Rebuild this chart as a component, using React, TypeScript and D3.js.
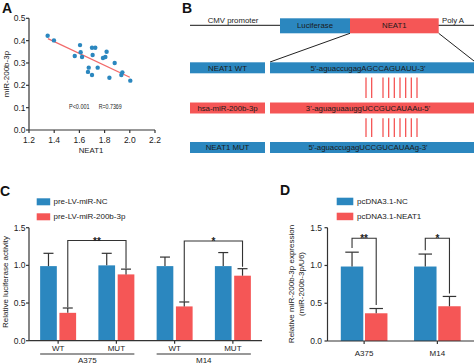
import React from "react";
import * as d3 from "d3";

const BLUE = "#2b87bf";
const RED = "#f55656";
const INK = "#333333";
const FONT = "'Liberation Sans', Arial, Helvetica, sans-serif";

// ---------- Panel A: correlation ----------
const neat1 = [1.348, 1.398, 1.563, 1.605, 1.61, 1.621, 1.7, 1.726, 1.705, 1.674, 1.668, 1.7, 1.745, 1.787, 1.806, 1.816, 1.88, 1.838, 1.941, 1.933, 2.004];
const mir200b = [0.422, 0.401, 0.331, 0.38, 0.348, 0.327, 0.368, 0.368, 0.336, 0.279, 0.26, 0.246, 0.279, 0.322, 0.327, 0.35, 0.3, 0.234, 0.258, 0.246, 0.221];
const fitX = [1.35, 2.0];
const fitY = [0.409, 0.236];
const aXTicks = [1.2, 1.4, 1.6, 1.8, 2.0, 2.2];
const aYTicks = [0, 0.1, 0.2, 0.3, 0.4, 0.5];
const aStats = ["P<0.001", "R=0.7369"];

// ---------- Panel B: construct ----------
const bTopLabels = ["CMV promoter", "Luciferase", "NEAT1", "Poly A"];
const bRowNames = ["NEAT1 WT", "hsa-miR-200b-3p", "NEAT1 MUT"];
const bRowSeqs = ["5'-aguaccugagAGCCAGUAUU-3'", "3'-aguaguaauggUCCGUCAUAAu-5'", "5'-aguaccugagUCCGUCAUAAg-3'"];
const bRowColors = [BLUE, RED, BLUE];
const bPairIdx = [0, 1, 3, 4, 5, 6, 7, 8, 9];

// ---------- Panel C: luciferase ----------
const cGroups = ["A375 WT", "A375 MUT", "M14 WT", "M14 MUT"];
const cTickLabels = ["WT", "MUT", "WT", "MUT"];
const cCellLines = ["A375", "M14"];
const cLegend = ["pre-LV-miR-NC", "pre-LV-miR-200b-3p"];
const cNC = [0.99, 1.0, 0.99, 0.99];
const cNCErr = [0.17, 0.16, 0.12, 0.18];
const cMiR = [0.37, 0.88, 0.455, 0.863];
const cMiRErr = [0.064, 0.07, 0.059, 0.093];
const cYTicks = [0, 0.5, 1.0, 1.5];
const cSig = [
  { from: 0, to: 1, level: 1.33, footL: 0.445, footR: 0.96, label: "**" },
  { from: 2, to: 3, level: 1.323, footL: 0.518, footR: 0.98, label: "*" },
];

// ---------- Panel D: expression ----------
const dGroups = ["A375", "M14"];
const dLegend = ["pcDNA3.1-NC", "pcDNA3.1-NEAT1"];
const dNC = [0.986, 0.986];
const dNCErr = [0.19, 0.165];
const dNEAT = [0.367, 0.46];
const dNEATErr = [0.063, 0.13];
const dYTicks = [0, 0.5, 1.0, 1.5];
const dSig = [
  { g: 0, level: 1.36, footL: 1.23, footR: 0.477, label: "**" },
  { g: 1, level: 1.36, footL: 1.2, footR: 0.63, label: "*" },
];

const fmt1 = d3.format(".1f");

function ErrBar({ x, w, y0, y1 }: { x: number; w: number; y0: number; y1: number }) {
  return (
    <g stroke={INK} strokeWidth={1.2}>
      <line x1={x} x2={x} y1={y0} y2={y1} />
      <line x1={x - w / 2} x2={x + w / 2} y1={y1} y2={y1} />
    </g>
  );
}

export default function App() {
  // Panel A scales
  const ax = d3.scaleLinear().domain([1.2, 2.2]).range([29, 155]);
  const ay = d3.scaleLinear().domain([0, 0.5]).range([130, 18.3]);
  const fitLine = d3.line<number>().x((d, i) => ax(fitX[i])).y((d) => ay(d));

  // Panel B schematic pairing scale
  const pairX = d3.scaleLinear().domain([0, 9]).range([366, 417]);

  // Panel C scales
  const cx = d3.scaleBand<string>().domain(cGroups).range([29, 262]).padding(0);
  const cSub = d3.scaleBand<string>().domain(["nc", "tr"]).range([0, cx.bandwidth()]).paddingInner(0.135).paddingOuter(0.577);
  const cy = d3.scaleLinear().domain([0, 1.5]).range([340.7, 227.7]);

  // Panel D scales
  const dx = d3.scaleBand<string>().domain(dGroups).range([327.5, 474]).padding(0);
  const dSub = d3.scaleBand<string>().domain(["nc", "tr"]).range([0, dx.bandwidth()]).paddingInner(0.07).paddingOuter(0.55);
  const dy = d3.scaleLinear().domain([0, 1.5]).range([341, 227.7]);

  const cbw = cSub.bandwidth();
  const dbw = dSub.bandwidth();

  const rowsY = [62.3, 102.5, 142];
  const rowH = 11;

  return (
    <svg width={474} height={364} style={{ position: "absolute", left: 0, top: 0, background: "#fff" }} fontFamily={FONT}>
      <rect width={474} height={364} fill="#fff" />
      {/* ============ Panel A ============ */}
      <text x={2} y={13} fontSize={14} fontWeight="bold" fill="#111">A</text>
      <line x1={29} x2={29} y1={ay(0.5)} y2={ay(0)} stroke={INK} strokeWidth={1.2} />
      <line x1={29} x2={ax(2.2)} y1={ay(0)} y2={ay(0)} stroke={INK} strokeWidth={1.2} />
      {aYTicks.map((t) => (
        <g key={"ay" + t}>
          <line x1={26} x2={29} y1={ay(t)} y2={ay(t)} stroke={INK} strokeWidth={1.2} />
          <text x={25.5} y={ay(t)} fontSize={8.5} textAnchor="end" dominantBaseline="central" fill="#222">{fmt1(t)}</text>
        </g>
      ))}
      {aXTicks.map((t) => (
        <g key={"ax" + t}>
          <line x1={ax(t)} x2={ax(t)} y1={ay(0)} y2={ay(0) + 3} stroke={INK} strokeWidth={1.2} />
          <text x={ax(t)} y={139.5} fontSize={8.5} textAnchor="middle" dominantBaseline="central" fill="#222">{fmt1(t)}</text>
        </g>
      ))}
      <text x={91} y={150.7} fontSize={7.8} textAnchor="middle" dominantBaseline="central" fill="#222">NEAT1</text>
      <text transform="translate(6,74) rotate(-90)" fontSize={8} textAnchor="middle" dominantBaseline="central" fill="#222">miR-200b-3p</text>
      <path d={fitLine(fitY) || ""} stroke="#f26a6a" strokeWidth={1.3} fill="none" />
      {neat1.map((v, i) => (
        <circle key={"pt" + i} cx={ax(v)} cy={ay(mir200b[i])} r={2.2} fill={BLUE} />
      ))}
      <text x={69} y={106.7} fontSize={6.5} dominantBaseline="central" fill="#222" textLength={20.5} lengthAdjust="spacingAndGlyphs">{aStats[0]}</text>
      <text x={98.7} y={106.7} fontSize={6.5} dominantBaseline="central" fill="#222" textLength={23} lengthAdjust="spacingAndGlyphs">{aStats[1]}</text>

      {/* ============ Panel B ============ */}
      <text x={182} y={13} fontSize={14} fontWeight="bold" fill="#111">B</text>
      <line x1={190} x2={474} y1={25.3} y2={25.3} stroke="#444" strokeWidth={1.3} />
      <rect x={280} y={18.3} width={70} height={15} fill={BLUE} />
      <rect x={350} y={18.3} width={88.7} height={15} fill={RED} />
      <text x={233} y={20} fontSize={7.8} textAnchor="middle" dominantBaseline="central" fill="#222">{bTopLabels[0]}</text>
      <text x={315} y={25.8} fontSize={7.8} textAnchor="middle" dominantBaseline="central" fill="#1a1a1a">{bTopLabels[1]}</text>
      <text x={394.3} y={25.8} fontSize={7.8} textAnchor="middle" dominantBaseline="central" fill="#1a1a1a">{bTopLabels[2]}</text>
      <text x={453} y={20} fontSize={7.8} textAnchor="middle" dominantBaseline="central" fill="#222">{bTopLabels[3]}</text>
      <line x1={350} y1={33.3} x2={270} y2={62} stroke="#222" strokeWidth={1} />
      <line x1={438.7} y1={33.3} x2={474} y2={61} stroke="#222" strokeWidth={1} />
      {bRowNames.map((name, i) => (
        <g key={"row" + i}>
          <rect x={190} y={rowsY[i]} width={75} height={rowH} fill={bRowColors[i]} />
          <rect x={270} y={rowsY[i]} width={204} height={rowH} fill={bRowColors[i]} />
          <text x={227.5} y={rowsY[i] + rowH / 2 + 0.3} fontSize={7.8} textAnchor="middle" dominantBaseline="central" fill="#1a1a1a">{name}</text>
          <text x={368} y={rowsY[i] + rowH / 2 + 0.3} fontSize={7.8} textAnchor="middle" dominantBaseline="central" fill="#1a1a1a">{bRowSeqs[i]}</text>
        </g>
      ))}
      {[[77.5, 98], [118.3, 137]].map((ys, k) =>
        bPairIdx.map((p) => (
          <line key={"pair" + k + "-" + p} x1={pairX(p)} x2={pairX(p)} y1={ys[0]} y2={ys[1]} stroke={RED} strokeWidth={1.3} />
        ))
      )}

      {/* ============ Panel C ============ */}
      <text x={0} y={195.5} fontSize={14} fontWeight="bold" fill="#111">C</text>
      {cLegend.map((l, i) => (
        <g key={"cl" + i}>
          <rect x={36.7} y={198.3 + i * 15} width={13.5} height={7} fill={i === 0 ? BLUE : RED} />
          <text x={53.5} y={201.8 + i * 15} fontSize={8} dominantBaseline="central" fill="#222">{l}</text>
        </g>
      ))}
      {cGroups.map((g, i) => {
        const x0 = cx(g)! + cSub("nc")!;
        const x1 = cx(g)! + cSub("tr")!;
        return (
          <g key={"cg" + i}>
            <rect x={x0} y={cy(cNC[i])} width={cbw} height={cy(0) - cy(cNC[i])} fill={BLUE} />
            <rect x={x1} y={cy(cMiR[i])} width={cbw} height={cy(0) - cy(cMiR[i])} fill={RED} />
            <ErrBar x={x0 + cbw / 2} w={cbw * 0.6} y0={cy(cNC[i])} y1={cy(cNC[i] + cNCErr[i])} />
            <ErrBar x={x1 + cbw / 2} w={cbw * 0.6} y0={cy(cMiR[i])} y1={cy(cMiR[i] + cMiRErr[i])} />
            <line x1={cx(g)! + cx.bandwidth() / 2} x2={cx(g)! + cx.bandwidth() / 2} y1={cy(0)} y2={cy(0) + 3} stroke={INK} strokeWidth={1.2} />
            <text x={cx(g)! + cx.bandwidth() / 2} y={348.3} fontSize={8} textAnchor="middle" dominantBaseline="central" fill="#222">{cTickLabels[i]}</text>
          </g>
        );
      })}
      <line x1={29} x2={29} y1={cy(1.5)} y2={cy(0)} stroke={INK} strokeWidth={1.2} />
      <line x1={29} x2={262} y1={cy(0)} y2={cy(0)} stroke={INK} strokeWidth={1.2} />
      {cYTicks.map((t) => (
        <g key={"cy" + t}>
          <line x1={26} x2={29} y1={cy(t)} y2={cy(t)} stroke={INK} strokeWidth={1.2} />
          <text x={25.5} y={cy(t)} fontSize={8.5} textAnchor="end" dominantBaseline="central" fill="#222">{fmt1(t)}</text>
        </g>
      ))}
      <text transform="translate(5,282) rotate(-90)" fontSize={8} textAnchor="middle" dominantBaseline="central" fill="#222">Relative luciferase activity</text>
      {cCellLines.map((c, k) => {
        const gA = cGroups[k * 2];
        const gB = cGroups[k * 2 + 1];
        const left = cx(gA)! + cSub("nc")!;
        const right = cx(gB)! + cSub("tr")! + cbw;
        return (
          <g key={"cc" + k}>
            <line x1={left} x2={right} y1={354} y2={354} stroke={INK} strokeWidth={1.1} />
            <text x={(left + right) / 2} y={360.5} fontSize={8} textAnchor="middle" dominantBaseline="central" fill="#222">{c}</text>
          </g>
        );
      })}
      {cSig.map((s, k) => {
        const xl = cx(cGroups[s.from])! + cSub("tr")! + cbw / 2;
        const xr = cx(cGroups[s.to])! + cSub("tr")! + cbw / 2;
        return (
          <g key={"cs" + k}>
            <path d={`M${xl},${cy(s.footL)}V${cy(s.level)}H${xr}V${cy(s.footR)}`} fill="none" stroke={INK} strokeWidth={1.1} />
            <text x={(xl + xr) / 2} y={cy(s.level) + 4.2} fontSize={10} fontWeight="bold" textAnchor="middle" fill="#222">{s.label}</text>
          </g>
        );
      })}

      {/* ============ Panel D ============ */}
      <text x={280} y={195} fontSize={14} fontWeight="bold" fill="#111">D</text>
      {dLegend.map((l, i) => (
        <g key={"dl" + i}>
          <rect x={336.7} y={197.7 + i * 15} width={16.6} height={7.5} fill={i === 0 ? BLUE : RED} />
          <text x={357} y={201.5 + i * 15} fontSize={8} dominantBaseline="central" fill="#222">{l}</text>
        </g>
      ))}
      {dGroups.map((g, i) => {
        const x0 = dx(g)! + dSub("nc")!;
        const x1 = dx(g)! + dSub("tr")!;
        const xc = dx(g)! + dx.bandwidth() / 2;
        return (
          <g key={"dg" + i}>
            <rect x={x0} y={dy(dNC[i])} width={dbw} height={dy(0) - dy(dNC[i])} fill={BLUE} />
            <rect x={x1} y={dy(dNEAT[i])} width={dbw} height={dy(0) - dy(dNEAT[i])} fill={RED} />
            <ErrBar x={x0 + dbw / 2} w={dbw * 0.6} y0={dy(dNC[i])} y1={dy(dNC[i] + dNCErr[i])} />
            <ErrBar x={x1 + dbw / 2} w={dbw * 0.6} y0={dy(dNEAT[i])} y1={dy(dNEAT[i] + dNEATErr[i])} />
            <line x1={xc} x2={xc} y1={dy(0)} y2={dy(0) + 3} stroke={INK} strokeWidth={1.2} />
            <text x={xc} y={353.3} fontSize={8} textAnchor="middle" dominantBaseline="central" fill="#222">{g}</text>
          </g>
        );
      })}
      <line x1={327.5} x2={327.5} y1={dy(1.5)} y2={dy(0)} stroke={INK} strokeWidth={1.2} />
      <line x1={327.5} x2={474} y1={dy(0)} y2={dy(0)} stroke={INK} strokeWidth={1.2} />
      {dYTicks.map((t) => (
        <g key={"dy" + t}>
          <line x1={324.5} x2={327.5} y1={dy(t)} y2={dy(t)} stroke={INK} strokeWidth={1.2} />
          <text x={322} y={dy(t)} fontSize={8.5} textAnchor="end" dominantBaseline="central" fill="#222">{fmt1(t)}</text>
        </g>
      ))}
      <text transform="translate(291.7,284) rotate(-90)" fontSize={8} textAnchor="middle" dominantBaseline="central" fill="#222">Relative miR-200b-3p expression</text>
      <text transform="translate(301.7,284) rotate(-90)" fontSize={8} textAnchor="middle" dominantBaseline="central" fill="#222">(miR-200b-3p/U6)</text>
      {dSig.map((s, k) => {
        const g = dGroups[s.g];
        const xl = dx(g)! + dSub("nc")! + dbw / 2;
        const xr = dx(g)! + dSub("tr")! + dbw / 2;
        return (
          <g key={"ds" + k}>
            <path d={`M${xl},${dy(s.footL)}V${dy(s.level)}H${xr}V${dy(s.footR)}`} fill="none" stroke={INK} strokeWidth={1.1} />
            <text x={(xl + xr) / 2} y={dy(s.level) + 4.2} fontSize={10} fontWeight="bold" textAnchor="middle" fill="#222">{s.label}</text>
          </g>
        );
      })}
    </svg>
  );
}
